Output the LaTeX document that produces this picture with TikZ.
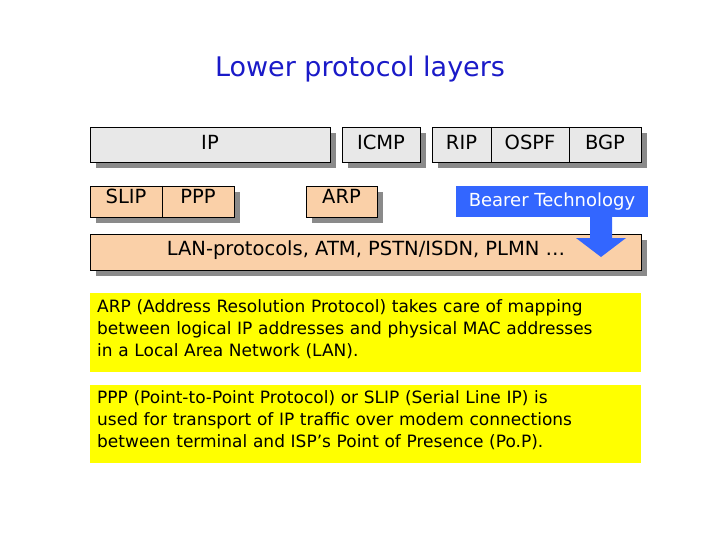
\documentclass[tikz,border=0pt]{standalone}
\usepackage{fontspec}
\setmainfont{DejaVu Sans}
\definecolor{gbox}{HTML}{E8E8E8}
\definecolor{obox}{HTML}{FAD0A8}
\definecolor{sh}{HTML}{8A8A8A}
\definecolor{bear}{HTML}{3366FF}
\definecolor{ttl}{HTML}{1A1AC8}
\definecolor{yel}{HTML}{FFFF00}
\begin{document}
\begin{tikzpicture}[x=1pt,y=-1pt,
  lay/.style={draw=black,line width=0.8pt},
  shad/.style={fill=sh},
  lbl/.style={font=\fontsize{19.5}{22}\selectfont,inner sep=0pt},
  body/.style={font=\fontsize{17}{22}\selectfont,align=left,anchor=north west,inner sep=0pt,text width=560pt}]
\useasboundingbox (0,0) rectangle (720,540);
\node[font=\fontsize{27}{30}\selectfont,text=ttl] (title) at (360,69) {Lower protocol layers};
% shadows
\foreach \a/\b/\c/\d in {90/127/330/162, 342/127/420/162, 432/127/641/162, 90/186/234/217, 306/186/377/217, 90/234/641/270}
  \fill[shad] (\a+6,\b+6) rectangle (\c+6,\d+6);
% gray boxes
\draw[lay,fill=gbox] (90,127) rectangle (330,162);
\draw[lay,fill=gbox] (342,127) rectangle (420,162);
\draw[lay,fill=gbox] (432,127) rectangle (641,162);
\draw[lay] (491,127) -- (491,162);
\draw[lay] (569,127) -- (569,162);
\node[lbl] (ip) at (210,142) {IP};
\node[lbl] (icmp) at (381,142) {ICMP};
\node[lbl] (rip) at (461.5,142) {RIP};
\node[lbl] (ospf) at (530,142) {OSPF};
\node[lbl] (bgp) at (605,142) {BGP};
% orange boxes
\draw[lay,fill=obox] (90,186) rectangle (234,217);
\draw[lay] (162,186) -- (162,217);
\draw[lay,fill=obox] (306,186) rectangle (377,217);
\draw[lay,fill=obox] (90,234) rectangle (641,270);
\node[lbl] (slip) at (126,196) {SLIP};
\node[lbl] (ppp) at (198,196) {PPP};
\node[lbl] (arp) at (341.5,196) {ARP};
\node[lbl] (lan) at (366,250) {LAN-protocols, ATM, PSTN/ISDN, PLMN …};
% bearer
\fill[bear] (590,215) -- (612,215) -- (612,238) -- (626,238) -- (601,257) -- (576,238) -- (590,238) -- cycle;
\node[fill=bear,text=white,minimum width=192pt,minimum height=31pt,inner sep=0pt,font=\fontsize{18}{20}\selectfont] (bt) at (552,201.5) {Bearer Technology};
% yellow boxes
\fill[yel] (90,293) rectangle (641,372);
\node[body] (t1) at (97,299) {ARP (Address Resolution Protocol) takes care of mapping\\between logical IP addresses and physical MAC addresses\\in a Local Area Network (LAN).};
\fill[yel] (90,385) rectangle (641,463);
\node[body] (t2) at (97,390) {PPP (Point-to-Point Protocol) or SLIP (Serial Line IP) is\\used for transport of IP traffic over modem connections\\between terminal and ISP’s Point of Presence (Po.P).};
\end{tikzpicture}
\end{document}
